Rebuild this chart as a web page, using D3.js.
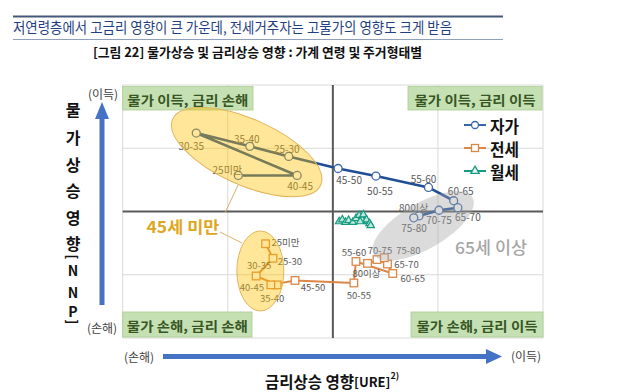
<!DOCTYPE html>
<html><head><meta charset="utf-8">
<script src="https://cdn.jsdelivr.net/npm/d3@7"></script>
<style>
body{margin:0;background:#fff}
svg{display:block}
text{font-family:"Noto Sans CJK KR","Noto Sans",sans-serif}
</style>
</head><body>
<svg id="c" width="635" height="392"></svg>
<script>
// ---------------- data ----------------
const ticks = [-2, -1, 0, 1, 2];
const seriesNames = ["자가", "전세", "월세"];

// 자가 (owner) — in plotting order
const ownLabels = ["25미만","40-45","30-35","35-40","25-30","45-50","50-55","55-60","60-65","65-70","70-75","75-80","80이상"];
const ownX = [-0.90,-0.34,-1.30,-0.79,-0.42,0.05,0.41,0.91,1.15,1.19,1.01,0.82,0.77];
const ownY = [0.57,0.57,1.24,1.03,0.87,0.68,0.56,0.38,0.17,0.06,0.02,-0.07,-0.10];

// 전세 (jeonse)
const jeonLabels = ["25미만","25-30","30-35","35-40","40-45","45-50","50-55","55-60","60-65","65-70","70-75","75-80","80이상"];
const jeonX = [-0.64,-0.57,-0.73,-0.53,-0.59,-0.36,0.20,0.22,0.57,0.52,0.42,0.49,0.33];
const jeonY = [-0.51,-0.74,-1.02,-1.16,-1.16,-1.09,-1.13,-0.79,-0.98,-0.83,-0.76,-0.73,-0.82];

// 월세 (monthly rent)
const wolX = [0.06,0.09,0.12,0.15,0.19,0.22,0.25,0.28,0.29,0.32,0.35,0.36,0.26];
const wolY = [-0.16,-0.13,-0.17,-0.14,-0.17,-0.11,-0.06,-0.13,-0.05,-0.13,-0.19,-0.22,-0.16];

// texts
const titleText = "저연령층에서 고금리 영향이 큰 가운데, 전세거주자는 고물가의 영향도 크게 받음";
const subTitleText = "[그림 22] 물가상승 및 금리상승 영향 : 가계 연령 및 주거형태별";
const quadTexts = ["물가 이득, 금리 손해","물가 이득, 금리 이득","물가 손해, 금리 손해","물가 손해, 금리 이득"];
const yAxisChars = ["물","가","상","승","영","향","[","N","N","P","]"];

// ---------------- layout / style (not data) ----------------
const ownLabelOff = [[-11,-6],[3,10],[-5,12],[-3,-8],[-2,-8],[11,11],[4,14],[-5,-9],[7,-10],[10,9],[0,9],[-5,12],[0,-10]];
const jeonLabelOff = [[20,-2],[17,3],[3,-11],[-5,13],[-19,2],[18,7],[5,12],[-2,-9],[20,5],[19,0],[3,-10],[24,-8],[-1,10]];
const yAxisCharY = [109,137,164,190,217,243,257,270,292,311,322];

const svg = d3.select("#c");
svg.append("rect").attr("width",635).attr("height",392).attr("fill","#fff");

const x = d3.scaleLinear().domain([-2,2]).range([122.7,543]);
const y = d3.scaleLinear().domain([-2,2]).range([338,85]);

// header
svg.append("line").attr("x1",13).attr("x2",503).attr("y1",16.5).attr("y2",16.5).attr("stroke","#44597a").attr("stroke-width",1.8);
svg.append("text").attr("x",13).attr("y",33).attr("font-size",14.5).attr("fill","#1f3f80")
  .attr("textLength",439).attr("lengthAdjust","spacingAndGlyphs").text(titleText);
svg.append("line").attr("x1",13).attr("x2",503).attr("y1",39.5).attr("y2",39.5).attr("stroke","#8fa0b8").attr("stroke-width",1);
svg.append("text").attr("x",93).attr("y",57).attr("font-size",13).attr("font-weight","bold").attr("fill","#111")
  .attr("textLength",329).attr("lengthAdjust","spacingAndGlyphs").text(subTitleText);

// grid
const g = svg.append("g");
g.selectAll(".gx").data(ticks).join("line")
  .attr("x1",d=>x(d)).attr("x2",d=>x(d)).attr("y1",y(2)).attr("y2",y(-2))
  .attr("stroke","#d9d9d9").attr("stroke-width",1);
g.selectAll(".gy").data(ticks).join("line")
  .attr("y1",d=>y(d)).attr("y2",d=>y(d)).attr("x1",x(-2)).attr("x2",x(2))
  .attr("stroke","#d9d9d9").attr("stroke-width",1);
// zero axes
g.append("line").attr("x1",x(0)).attr("x2",x(0)).attr("y1",y(2)).attr("y2",y(-2)).attr("stroke","#595959").attr("stroke-width",2);
g.append("line").attr("y1",y(0)).attr("y2",y(0)).attr("x1",x(-2)).attr("x2",x(2)).attr("stroke","#595959").attr("stroke-width",2);

// quadrant label boxes
const qbox = [
  {x0:122.7, x1:253, y0:86.5, y1:110},
  {x0:408, x1:542, y0:86.5, y1:110},
  {x0:122.7, x1:252, y0:312, y1:337},
  {x0:411, x1:543, y0:312, y1:337}
];
qbox.forEach((b,i)=>{
  g.append("rect").attr("x",b.x0).attr("y",b.y0).attr("width",b.x1-b.x0).attr("height",b.y1-b.y0)
    .attr("fill","#c5e0b3").attr("stroke","#a9cc8f").attr("stroke-width",0.8);
  g.append("text").attr("x",(b.x0+b.x1)/2).attr("y",(b.y0+b.y1)/2+1).attr("text-anchor","middle")
    .attr("dominant-baseline","central").attr("font-size",13).attr("font-weight","bold").attr("fill","#375623")
    .attr("textLength",121).attr("lengthAdjust","spacingAndGlyphs").text(quadTexts[i]);
});

const line = d3.line().x(d=>x(d[0])).y(d=>y(d[1]));
const ownPts = ownX.map((v,i)=>[v,ownY[i]]);
const jeonPts = jeonX.map((v,i)=>[v,jeonY[i]]);
const wolPts = wolX.map((v,i)=>[v,wolY[i]]);

const colOwn = "#1f4e96", colOwnM = "#3a66a8", colJeon = "#dc8746", colWol = "#159a80";

// lines
g.append("path").attr("d",line(ownPts)).attr("fill","none").attr("stroke",colOwn).attr("stroke-width",2.6).attr("stroke-linejoin","round");
g.append("path").attr("d",line(jeonPts)).attr("fill","none").attr("stroke",colJeon).attr("stroke-width",2).attr("stroke-linejoin","round");
g.append("path").attr("d",line(wolPts)).attr("fill","none").attr("stroke",colWol).attr("stroke-width",2);

// markers
g.selectAll(".mo").data(ownPts).join("circle").attr("cx",d=>x(d[0])).attr("cy",d=>y(d[1])).attr("r",4)
  .attr("fill","#fff").attr("stroke",colOwnM).attr("stroke-width",1.3);
g.selectAll(".mj").data(jeonPts).join("rect").attr("x",d=>x(d[0])-3.8).attr("y",d=>y(d[1])-3.8)
  .attr("width",7.6).attr("height",7.6).attr("fill","#fff").attr("stroke",colJeon).attr("stroke-width",1.3);
const tri = d3.symbol().type(d3.symbolTriangle).size(24);
g.selectAll(".mw").data(wolPts).join("path").attr("d",tri)
  .attr("transform",d=>`translate(${x(d[0])},${y(d[1])})`).attr("fill","#bfe8dc").attr("stroke",colWol).attr("stroke-width",1.2);

// data labels
g.selectAll(".lo").data(ownPts).join("text")
  .attr("x",(d,i)=>x(d[0])+ownLabelOff[i][0]).attr("y",(d,i)=>y(d[1])+ownLabelOff[i][1])
  .attr("text-anchor","middle").attr("dominant-baseline","central").attr("font-size",10).attr("fill","#595959")
  .text((d,i)=>ownLabels[i]);
g.selectAll(".lj").data(jeonPts).join("text")
  .attr("x",(d,i)=>x(d[0])+jeonLabelOff[i][0]).attr("y",(d,i)=>y(d[1])+jeonLabelOff[i][1])
  .attr("text-anchor","middle").attr("dominant-baseline","central").attr("font-size",9.5).attr("fill","#595959")
  .text((d,i)=>jeonLabels[i]);

// annotation ellipses (overlay)
function ell(cx,cy,rx,ry,rot,fill,op,stroke){
  g.append("ellipse").attr("cx",0).attr("cy",0).attr("rx",rx).attr("ry",ry)
   .attr("transform",`translate(${x(cx)},${y(cy)}) rotate(${rot})`)
   .attr("fill",fill).attr("fill-opacity",op).attr("stroke",stroke||"none").attr("stroke-width",1);
}
ell(-0.82,0.94,81,33,24,"#ffc000",0.4,"#e3b45a");
ell(-0.69,-0.94,23.5,40,0,"#ffc000",0.4,"#e3b45a");
ell(0.86,-0.23,57,23,-30,"#a6a6a6",0.4,null);

// leader lines + annotation texts
g.append("line").attr("x1",225).attr("y1",213).attr("x2",238).attr("y2",185).attr("stroke","#d9b36a").attr("stroke-width",1);
g.append("line").attr("x1",220).attr("y1",232).attr("x2",242).attr("y2",243).attr("stroke","#d9b36a").attr("stroke-width",1);
g.append("text").attr("x",146.5).attr("y",226).attr("dominant-baseline","central").attr("font-size",16).attr("font-weight","bold")
  .attr("fill","#dea722").attr("textLength",73).attr("lengthAdjust","spacingAndGlyphs").text("45세 미만");
g.append("text").attr("x",455).attr("y",247).attr("dominant-baseline","central").attr("font-size",16.5).attr("font-weight","500")
  .attr("fill","#a6a6a6").attr("textLength",72).attr("lengthAdjust","spacingAndGlyphs").text("65세 이상");

// legend
const legY = [125,148,171];
const legCols = [colOwnM, colJeon, colWol];
seriesNames.forEach((n,i)=>{
  const ly = legY[i];
  svg.append("line").attr("x1",464).attr("x2",486).attr("y1",ly).attr("y2",ly).attr("stroke",legCols[i]).attr("stroke-width",2);
  if(i===0) svg.append("circle").attr("cx",475).attr("cy",ly).attr("r",3.5).attr("fill","#fff").attr("stroke",legCols[i]).attr("stroke-width",1.3);
  if(i===1) svg.append("rect").attr("x",471.5).attr("y",ly-3.5).attr("width",7).attr("height",7).attr("fill","#fff").attr("stroke",legCols[i]).attr("stroke-width",1.3);
  if(i===2) svg.append("path").attr("d",d3.symbol().type(d3.symbolTriangle).size(30)).attr("transform",`translate(475,${ly})`).attr("fill","#e8f6f2").attr("stroke",legCols[i]).attr("stroke-width",1.3);
  svg.append("text").attr("x",490).attr("y",ly+1).attr("dominant-baseline","central").attr("font-size",16.5).attr("font-weight","bold")
    .attr("fill","#111").attr("textLength",29).attr("lengthAdjust","spacingAndGlyphs").text(n);
});

// y-axis title & arrow
const arrowCol = "#4472c4";
svg.append("line").attr("x1",102).attr("x2",102).attr("y1",305).attr("y2",116).attr("stroke",arrowCol).attr("stroke-width",5);
svg.append("path").attr("d","M102,102 L109,119 L95,119 Z").attr("fill",arrowCol);
yAxisChars.forEach((c,i)=>{
  const latin = /[A-Z\[\]]/.test(c);
  const t = svg.append("text").attr("x",73).attr("y",yAxisCharY[i]).attr("text-anchor","middle").attr("dominant-baseline","central")
    .attr("font-size",latin?14:16).attr("font-weight","bold").attr("fill","#111").text(c);
  if(c==="["||c==="]") t.attr("transform",`rotate(90,73,${yAxisCharY[i]})`);
});
svg.append("text").attr("x",103).attr("y",93).attr("text-anchor","middle").attr("dominant-baseline","central").attr("font-size",12).attr("fill","#404040").text("(이득)");
svg.append("text").attr("x",102).attr("y",327).attr("text-anchor","middle").attr("dominant-baseline","central").attr("font-size",12).attr("fill","#404040").text("(손해)");

// x-axis title & arrow
svg.append("line").attr("x1",163).attr("x2",489).attr("y1",356.5).attr("y2",356.5).attr("stroke",arrowCol).attr("stroke-width",5);
svg.append("path").attr("d","M502,356.5 L486,349 L486,364 Z").attr("fill",arrowCol);
svg.append("text").attr("x",139).attr("y",356).attr("text-anchor","middle").attr("dominant-baseline","central").attr("font-size",12).attr("fill","#404040").text("(손해)");
svg.append("text").attr("x",526).attr("y",355).attr("text-anchor","middle").attr("dominant-baseline","central").attr("font-size",12).attr("fill","#404040").text("(이득)");
const xt = svg.append("text").attr("x",265).attr("y",381).attr("dominant-baseline","central").attr("font-size",15.5).attr("font-weight","bold").attr("fill","#111");
xt.append("tspan").text("금리상승 영향");
xt.append("tspan").attr("font-size",13).text("[URE]");
xt.append("tspan").attr("font-size",9).attr("dy",-6).text("2)");
</script>
</body></html>
